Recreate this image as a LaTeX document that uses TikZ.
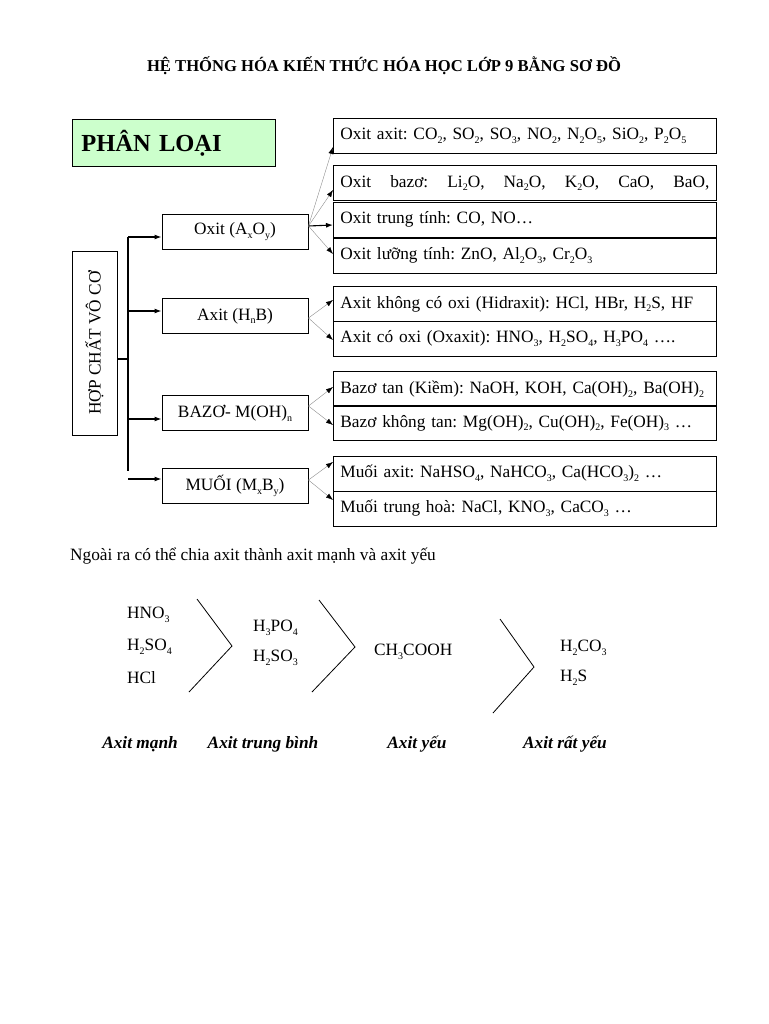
\documentclass[tikz,border=0pt]{standalone}
\usepackage{fontspec}
\setmainfont{Liberation Serif}
\usetikzlibrary{arrows.meta}
\newcommand{\sbs}[1]{\raisebox{-0.22em}{\fontsize{10}{10}\selectfont #1}}
\definecolor{lightgreen}{HTML}{CCFFCC}
\frenchspacing

\begin{document}
\begin{tikzpicture}[x=1pt,y=-1pt,
		txt/.style={font=\fontsize{17.3}{20}\selectfont},
		box/.style={draw,line width=0.9pt,inner sep=0pt,minimum height=35pt,txt},
		item/.style={box,anchor=west,text width=369pt,inner xsep=7pt,align=left},
		kind/.style={box,minimum width=146pt},
		edge/.style={-{Latex[length=7pt,width=5pt]},line width=1.1pt},
		fan/.style={-{Latex[length=7pt,width=5pt,color=black]},black!45,line width=0.4pt},
		chev/.style={line width=0.8pt},
		label/.style={txt,font=\fontsize{17.3}{20}\selectfont\bfseries\itshape},
	]
	\useasboundingbox (0,0) rectangle (768,1024);

	%title
	\node[font=\fontsize{16.6}{20}\selectfont\bfseries] (title) at (384,66) {HỆ THỐNG HÓA KIẾN THỨC HÓA HỌC LỚP 9 BẰNG SƠ ĐỒ};
	\node[draw,line width=0.9pt,fill=lightgreen,anchor=north west,minimum width=203pt,minimum height=47pt,
		text width=185pt,inner xsep=9pt,align=left,font=\fontsize{24.5}{26}\selectfont\bfseries] (phanloai) at (72,119) {\raisebox{3pt}{PHÂN LOẠI}};

	%root and kinds
	\node[box,rotate=90,minimum width=184pt,minimum height=45pt] (hop) at (94.5,343) {HỢP CHẤT VÔ CƠ};
	\node[kind] (oxit) at (235,231.5) {Oxit (A\sbs{x}O\sbs{y})};
	\node[kind] (axit) at (235,316) {Axit (H\sbs{n}B)};
	\node[kind] (bazo) at (235,413) {BAZƠ- M(OH)\sbs{n}};
	\node[kind] (muoi) at (235,485.5) {MUỐI (M\sbs{x}B\sbs{y})};

	%items
	\node[item] (oxa) at (333,135.5) {Oxit axit: CO\sbs{2}, SO\sbs{2}, SO\sbs{3}, NO\sbs{2}, N\sbs{2}O\sbs{5}, SiO\sbs{2}, P\sbs{2}O\sbs{5}};
	\node[item] (oxb) at (333,183) {Oxit\hfill bazơ:\hfill Li\sbs{2}O,\hfill Na\sbs{2}O,\hfill K\sbs{2}O,\hfill CaO,\hfill BaO,\hspace*{4pt}};
	\node[item] (oxt) at (333,219.5) {Oxit trung tính: CO, NO…};
	\node[item] (oxl) at (333,255.5) {Oxit lưỡng tính: ZnO, Al\sbs{2}O\sbs{3}, Cr\sbs{2}O\sbs{3}};
	\node[item] (axk) at (333,304) {Axit không có oxi (Hidraxit): HCl, HBr, H\sbs{2}S, HF};
	\node[item] (axc) at (333,338.5) {Axit có oxi (Oxaxit): HNO\sbs{3}, H\sbs{2}SO\sbs{4}, H\sbs{3}PO\sbs{4} ….};
	\node[item] (bzt) at (333,389) {Bazơ tan (Kiềm): NaOH, KOH, Ca(OH)\sbs{2}, Ba(OH)\sbs{2}};
	\node[item] (bzk) at (333,423) {Bazơ không tan: Mg(OH)\sbs{2}, Cu(OH)\sbs{2}, Fe(OH)\sbs{3} …};
	\node[item] (mua) at (333,473.5) {Muối axit: NaHSO\sbs{4}, NaHCO\sbs{3}, Ca(HCO\sbs{3})\sbs{2} …};
	\node[item] (mut) at (333,508.5) {Muối trung hoà: NaCl, KNO\sbs{3}, CaCO\sbs{3} …};

	%trunk
	\coordinate (trunktop) at (128,237);
	\coordinate (trunkmid) at (128,359);
	\coordinate (trunkbot) at (128,471);
	\coordinate (trunkmuoi) at (128,479);
	\draw[line width=1.1pt] ([yshift=-16pt]hop.south) -- (trunkmid);
	\draw[line width=1.1pt] (trunktop) -- (trunkbot);
	\draw[edge] (trunktop) -- ([yshift=-5.5pt]oxit.west);
	\draw[edge] (128,311) -- ([yshift=5pt]axit.west);
	\draw[edge] (128,419) -- ([yshift=-6pt]bazo.west);
	\draw[edge] (trunkmuoi) -- ([yshift=6.5pt]muoi.west);

	%fans
	\draw[fan] ([yshift=5.5pt]oxit.east) -- ([yshift=-11.5pt]oxa.west);
	\draw[fan] ([yshift=5.5pt]oxit.east) -- ([yshift=-7pt]oxb.west);
	\draw[edge] ([yshift=5.5pt]oxit.east) -- ([yshift=-5.5pt]oxt.west);
	\draw[fan] ([yshift=5.5pt]oxit.east) -- ([yshift=1.5pt]oxl.west);
	\draw[fan] ([yshift=-2pt]axit.east) -- ([yshift=4pt]axk.west);
	\draw[fan] ([yshift=-2pt]axit.east) -- ([yshift=-1.5pt]axc.west);
	\draw[fan] ([yshift=7pt]bazo.east) -- ([yshift=2pt]bzt.west);
	\draw[fan] ([yshift=7pt]bazo.east) -- ([yshift=-2pt]bzk.west);
	\draw[fan] ([yshift=5.5pt]muoi.east) -- ([yshift=11.5pt]mua.west);
	\draw[fan] ([yshift=5.5pt]muoi.east) -- ([yshift=8.5pt]mut.west);

	%acid strength
	\node[txt,anchor=west,inner sep=0pt] (note) at (70,556) {Ngoài ra có thể chia axit thành axit mạnh và axit yếu};
	\node[txt,anchor=west,inner sep=0pt] (hno3) at (127,615) {HNO\sbs{3}};
	\node[txt,anchor=west,inner sep=0pt] (h2so4) at (127,647) {H\sbs{2}SO\sbs{4}};
	\node[txt,anchor=west,inner sep=0pt] (hcl) at (127,678) {HCl};
	\node[txt,anchor=west,inner sep=0pt] (h3po4) at (253,628) {H\sbs{3}PO\sbs{4}};
	\node[txt,anchor=west,inner sep=0pt] (h2so3) at (253,658) {H\sbs{2}SO\sbs{3}};
	\node[txt,anchor=west,inner sep=0pt] (ch3cooh) at (374,652) {CH\sbs{3}COOH};
	\node[txt,anchor=west,inner sep=0pt] (h2co3) at (560,648) {H\sbs{2}CO\sbs{3}};
	\node[txt,anchor=west,inner sep=0pt] (h2s) at (560,678) {H\sbs{2}S};

	\draw[chev] (197,599) -- (232,646) -- (189,692);
	\draw[chev] (319,600) -- (355,647) -- (312,692);
	\draw[chev] (500,619) -- (534,667) -- (493,713);

	\node[label] (manh) at (140,744) {Axit mạnh};
	\node[label] (trungbinh) at (263,744) {Axit trung bình};
	\node[label] (yeu) at (417,744) {Axit yếu};
	\node[label] (ratyeu) at (565,744) {Axit rất yếu};
\end{tikzpicture}
\end{document}
